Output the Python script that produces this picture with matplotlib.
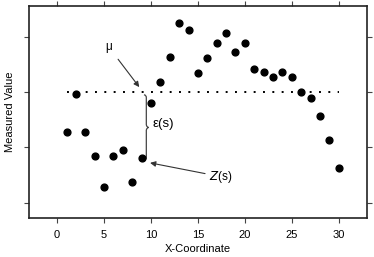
import matplotlib
matplotlib.use("Agg")
import matplotlib.pyplot as plt
from matplotlib.path import Path
from matplotlib.patches import PathPatch

plt.rcParams['font.family'] = ['Liberation Sans', 'DejaVu Sans']

# ── Data ──────────────────────────────────────────────────────────────────────
x_coord = list(range(1, 31))
measured = [1.27, 1.97, 1.28, 0.84, 0.28, 0.84, 0.95, 0.37, 0.80, 1.81,
            2.19, 2.63, 3.25, 3.12, 2.35, 2.62, 2.89, 3.06, 2.72, 2.88,
            2.42, 2.37, 2.27, 2.36, 2.28, 2.00, 1.89, 1.57, 1.14, 0.63]
mu = 2.0
mu_span = [1, 30]
x_ticks = [0, 5, 10, 15, 20, 25, 30]
y_ticks = [0, 1, 2, 3]

DARK = "#222222"

fig = plt.figure(figsize=(3.74, 2.57), dpi=100)
ax = fig.add_axes([0.0775, 0.1518, 0.9035, 0.8249])

ax.plot(mu_span, [mu, mu], color="black", lw=1.4, ls=(0, (1, 3.8)), zorder=1)
ax.plot(x_coord, measured, 'o', color="black", ms=4.9, zorder=3)

ax.set_xlim(-3, 33)
ax.set_ylim(-0.277, 3.557)
ax.set_xticks(x_ticks)
ax.set_yticks(y_ticks)
ax.set_yticklabels([])
ax.tick_params(direction='out', length=3.5, width=0.8, color="#444444",
               labelsize=8, top=True, right=True, pad=5)
for s in ax.spines.values():
    s.set_linewidth(1.2)
    s.set_color(DARK)

ax.set_xlabel("X-Coordinate", fontsize=8, labelpad=3)
ax.set_ylabel("Measured Value", fontsize=8)
ax.yaxis.set_label_coords(-0.04, 0.5)

# μ annotation
ax.annotate("μ", xy=(8.75, 2.09), xytext=(5.48, 2.82),
            ha='center', va='center', fontsize=8.5,
            arrowprops=dict(arrowstyle='-|>', color="#333333", lw=0.8,
                            mutation_scale=8, shrinkA=4, shrinkB=0))

# Z(s) annotation
ax.annotate("$Z$(s)", xy=(9.9, 0.72), xytext=(16.2, 0.47),
            ha='left', va='center', fontsize=8.5,
            arrowprops=dict(arrowstyle='-|>', color="#333333", lw=0.8,
                            mutation_scale=8, shrinkA=1, shrinkB=0))

# ε(s) brace
bx, top, bot, w = 9.5, 1.95, 0.77, 0.25
mid = (top + bot) / 2
verts = [(bx - w, top), (bx, top), (bx, top - 0.05), (bx, top - 0.1),
         (bx, mid + 0.05), (bx + w * 0.2, mid), (bx + w, mid),
         (bx + w * 0.2, mid), (bx, mid - 0.05), (bx, bot + 0.1),
         (bx, bot + 0.05), (bx, bot), (bx - w, bot)]
codes = [Path.MOVETO, Path.CURVE3, Path.CURVE3, Path.LINETO,
         Path.LINETO, Path.CURVE3, Path.CURVE3,
         Path.CURVE3, Path.CURVE3, Path.LINETO,
         Path.LINETO, Path.CURVE3, Path.CURVE3]
ax.add_patch(PathPatch(Path(verts, codes), fill=False, color="#444444", lw=0.9))
ax.text(10.2, 1.42, "ε(s)", ha='left', va='center', fontsize=9.5)

fig.savefig("out.png", dpi=100)
